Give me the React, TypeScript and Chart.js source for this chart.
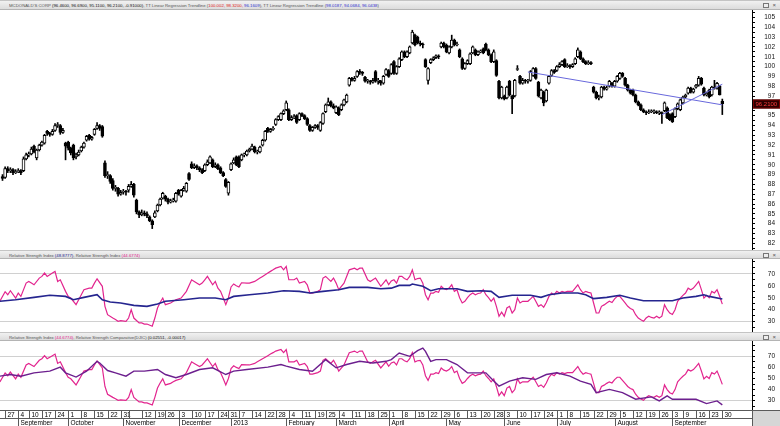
import React, { useEffect, useRef } from 'react';
import { Chart, registerables } from 'chart.js';

Chart.register(...registerables);

const FONT = '"Liberation Sans", Arial, Helvetica, sans-serif';
Chart.defaults.font.family = FONT;

// ---- Daily OHLC (trading day index 0 = 24 Aug 2012 ... 274 = 30 Sep 2013) ----
const OPEN = [
  88.8, 88.7, 89.6, 89.4, 89.5, 89.2, 89.3, 89.4, 89.4, 90.6,
  91.0, 91.1, 91.9, 90.7, 91.5, 92.0, 92.2, 93.4, 93.2, 93.1,
  93.5, 94.0, 94.0, 93.3, 92.2, 92.3, 91.7, 92.0, 90.8, 91.0,
  91.4, 91.8, 92.5, 93.0, 92.6, 93.1, 93.7, 94.0, 93.9, 90.2,
  88.9, 88.9, 88.4, 87.6, 87.6, 87.0, 87.2, 87.3, 87.4, 87.8,
  88.0, 86.4, 85.2, 84.9, 85.1, 85.0, 84.7, 84.3, 84.7, 85.3,
  85.9, 86.6, 86.8, 86.5, 86.2, 86.3, 86.3, 87.4, 86.8, 87.4,
  87.3, 89.1, 90.1, 89.7, 89.9, 89.7, 89.5, 89.4, 90.0, 90.2,
  90.5, 89.8, 90.0, 89.7, 89.2, 88.5, 87.1, 89.5, 90.2, 90.8,
  90.8, 90.5, 91.0, 91.0, 91.4, 91.6, 91.8, 91.3, 91.3, 92.0,
  92.5, 93.7, 93.4, 93.6, 94.1, 94.6, 94.6, 95.2, 95.6, 95.6,
  94.6, 94.8, 95.0, 94.6, 95.2, 95.0, 94.7, 94.0, 93.5, 93.8,
  94.0, 93.5, 94.2, 95.4, 96.1, 96.4, 96.0, 95.3, 95.8, 95.6,
  96.1, 96.4, 98.1, 98.8, 98.6, 99.0, 99.5, 99.4, 98.9, 98.5,
  98.5, 98.4, 99.5, 98.5, 98.5, 98.3, 99.2, 99.6, 99.3, 100.5,
  99.3, 100.0, 100.7, 101.5, 101.0, 101.4, 102.4, 103.2, 103.0, 102.4,
  102.3, 100.7, 98.6, 100.4, 100.7, 100.9, 101.1, 102.0, 102.4, 102.2,
  101.4, 102.0, 102.7, 102.2, 101.7, 100.8, 99.8, 100.3, 100.3, 101.4,
  101.7, 101.2, 101.5, 101.8, 102.3, 101.7, 101.2, 100.5, 100.6, 98.5,
  96.8, 97.0, 96.8, 98.5, 97.0, 97.0, 99.7, 99.0, 98.3, 98.6,
  98.5, 98.6, 99.1, 99.8, 98.4, 96.8, 97.4, 96.5, 98.3, 99.1,
  99.6, 99.6, 100.0, 100.2, 100.7, 100.0, 100.1, 100.0, 100.3, 101.0,
  101.5, 100.8, 100.5, 100.3, 100.4, 97.9, 97.4, 96.8, 96.9, 97.9,
  97.7, 98.0, 98.3, 98.0, 98.5, 98.8, 99.3, 98.8, 98.1, 97.6,
  97.6, 97.1, 96.4, 96.1, 95.6, 95.4, 95.3, 95.4, 95.4, 95.4,
  95.3, 95.3, 95.5, 95.8, 95.1, 95.2, 94.9, 95.7, 95.6, 96.3,
  96.9, 97.3, 97.8, 97.4, 97.9, 98.1, 98.8, 97.8, 97.1, 97.6,
  97.1, 97.9, 97.8, 98.0, 96.46,
];
const HIGH = [
  89.0, 89.8, 89.8, 89.7, 89.6, 89.5, 89.6, 89.5, 90.8, 91.2,
  91.3, 91.8, 92.0, 91.6, 92.1, 92.4, 93.1, 93.5, 93.3, 93.6,
  94.2, 94.3, 94.1, 93.7, 92.3, 92.4, 91.8, 92.1, 91.2, 91.5,
  91.9, 92.3, 93.0, 93.1, 92.9, 93.7, 94.3, 94.1, 94.0, 90.4,
  89.3, 89.0, 88.6, 87.9, 87.7, 87.4, 87.5, 87.4, 88.0, 88.3,
  88.1, 86.5, 85.3, 85.4, 85.3, 85.2, 84.8, 84.4, 85.3, 86.0,
  86.6, 87.2, 86.9, 86.6, 86.5, 86.6, 87.2, 87.5, 87.5, 87.8,
  88.2, 89.2, 90.3, 90.1, 90.0, 89.8, 89.6, 90.1, 90.5, 90.9,
  90.6, 90.2, 90.1, 89.8, 89.3, 88.6, 88.3, 90.2, 90.7, 90.9,
  90.9, 91.1, 91.2, 91.5, 91.7, 92.1, 91.9, 91.5, 91.9, 92.6,
  93.5, 93.8, 93.7, 93.9, 94.7, 95.0, 95.3, 95.6, 96.5, 95.7,
  95.0, 95.1, 95.1, 95.3, 95.3, 95.1, 94.8, 94.1, 93.9, 94.1,
  94.1, 94.4, 95.3, 96.2, 96.8, 96.5, 96.2, 96.0, 95.9, 96.2,
  96.7, 97.2, 98.9, 98.9, 99.0, 99.6, 99.7, 99.5, 99.0, 98.7,
  98.6, 98.8, 99.6, 98.8, 98.6, 99.1, 99.8, 99.7, 100.3, 100.6,
  100.1, 100.9, 101.6, 101.6, 101.6, 102.1, 103.7, 103.3, 103.1, 102.6,
  102.4, 100.8, 99.9, 100.8, 101.0, 101.2, 101.2, 102.5, 102.5, 102.3,
  102.1, 103.2, 102.8, 102.5, 101.8, 100.9, 100.4, 100.7, 101.4, 102.1,
  101.8, 101.6, 101.7, 101.9, 102.4, 101.8, 101.3, 101.7, 100.7, 98.6,
  98.0, 97.1, 98.0, 98.6, 97.1, 98.7, 100.1, 99.1, 98.8, 98.7,
  98.7, 99.6, 99.9, 99.9, 98.5, 97.7, 97.5, 97.7, 99.1, 99.7,
  99.7, 100.1, 100.4, 100.6, 100.8, 100.3, 100.2, 100.3, 100.9, 101.9,
  101.6, 100.9, 100.6, 100.6, 100.5, 98.0, 97.5, 97.1, 98.0, 98.0,
  98.0, 98.6, 98.4, 98.6, 99.1, 99.4, 99.4, 98.9, 98.2, 97.7,
  97.7, 97.2, 96.5, 96.2, 95.7, 95.5, 95.6, 95.6, 95.6, 95.5,
  95.5, 95.4, 96.4, 95.9, 95.2, 95.3, 95.8, 96.3, 96.7, 97.0,
  97.2, 97.9, 97.9, 97.8, 98.2, 99.0, 98.9, 97.9, 97.4, 97.7,
  98.0, 98.6, 98.4, 98.1, 96.69,
];
const LOW = [
  88.4, 88.6, 89.2, 89.2, 89.0, 89.1, 89.2, 89.0, 89.3, 90.5,
  90.8, 91.0, 91.2, 90.5, 91.4, 91.9, 92.1, 93.0, 92.9, 93.0,
  93.4, 93.8, 93.1, 93.2, 90.5, 91.5, 91.0, 90.5, 90.6, 90.9,
  91.3, 91.7, 92.4, 92.5, 92.5, 93.0, 93.6, 93.5, 92.8, 88.7,
  88.6, 88.1, 87.4, 87.3, 86.8, 86.9, 87.0, 86.9, 87.2, 87.7,
  86.7, 85.0, 84.6, 84.8, 84.8, 84.6, 84.2, 83.5, 84.6, 85.2,
  85.8, 86.5, 86.3, 86.0, 86.1, 86.2, 86.2, 86.9, 86.7, 87.3,
  87.2, 88.4, 89.6, 89.6, 89.5, 89.3, 89.1, 89.3, 89.9, 90.1,
  89.7, 89.7, 89.5, 89.1, 88.8, 87.7, 86.9, 89.4, 90.1, 89.9,
  89.7, 90.4, 90.8, 90.9, 91.3, 91.5, 91.2, 91.1, 91.2, 91.9,
  92.4, 93.3, 93.3, 93.5, 94.0, 94.5, 94.5, 95.1, 95.5, 94.5,
  94.5, 94.7, 94.2, 94.5, 94.9, 94.6, 94.0, 93.4, 93.4, 93.7,
  93.6, 93.4, 94.1, 95.3, 96.0, 95.9, 95.7, 95.2, 95.0, 95.5,
  96.0, 96.3, 98.0, 98.5, 98.5, 98.9, 99.2, 99.1, 98.4, 98.3,
  98.2, 98.3, 98.4, 98.2, 98.1, 98.2, 99.1, 98.9, 99.2, 99.2,
  99.2, 99.9, 100.6, 100.9, 100.9, 101.3, 102.3, 102.1, 102.3, 102.1,
  101.9, 99.9, 98.2, 100.3, 100.6, 100.8, 100.8, 101.9, 101.9, 101.4,
  101.3, 101.9, 102.1, 102.1, 100.9, 99.7, 99.7, 100.2, 100.2, 101.3,
  101.1, 101.1, 101.4, 101.3, 101.6, 101.1, 100.4, 100.4, 99.0, 96.7,
  96.7, 96.6, 96.7, 97.0, 95.2, 96.9, 99.6, 98.2, 98.2, 98.3,
  98.3, 98.5, 99.0, 98.7, 96.9, 96.7, 96.0, 96.4, 98.2, 99.0,
  99.3, 99.5, 99.9, 100.1, 99.9, 99.9, 99.8, 99.9, 100.2, 100.9,
  100.7, 100.4, 100.2, 100.2, 100.2, 97.3, 96.7, 96.6, 96.8, 97.6,
  97.6, 97.9, 97.9, 97.9, 98.4, 98.7, 98.9, 98.0, 97.5, 97.2,
  97.0, 96.3, 96.0, 95.5, 95.3, 95.1, 95.2, 95.3, 95.2, 95.2,
  95.1, 94.2, 95.4, 94.7, 94.5, 94.3, 94.8, 95.6, 95.5, 96.2,
  96.8, 97.2, 97.3, 97.3, 97.8, 98.0, 98.1, 97.0, 97.0, 96.8,
  97.0, 97.7, 97.7, 97.1, 95.11,
];
const CLOSE = [
  88.6, 89.6, 89.4, 89.5, 89.2, 89.3, 89.4, 89.2, 90.6, 91.0,
  91.1, 91.6, 91.3, 91.5, 92.0, 92.3, 93.0, 93.2, 93.1, 93.4,
  94.0, 94.1, 93.3, 93.5, 91.9, 91.7, 91.2, 90.7, 91.0, 91.3,
  91.8, 92.2, 92.9, 92.6, 92.8, 93.6, 94.0, 93.7, 92.9, 88.9,
  89.0, 88.3, 87.6, 87.6, 87.0, 87.2, 87.3, 87.2, 87.8, 88.0,
  86.9, 85.2, 84.9, 85.1, 85.0, 84.8, 84.3, 83.9, 85.1, 85.9,
  86.5, 87.1, 86.5, 86.2, 86.3, 86.4, 87.1, 87.0, 87.4, 87.6,
  88.1, 88.5, 89.7, 89.9, 89.7, 89.5, 89.2, 90.0, 90.3, 90.8,
  89.8, 90.0, 89.6, 89.2, 88.9, 87.8, 88.2, 90.1, 90.5, 90.0,
  89.8, 91.0, 91.0, 91.4, 91.6, 91.9, 91.3, 91.3, 91.8, 92.5,
  93.4, 93.4, 93.6, 93.7, 94.6, 94.9, 95.2, 95.5, 96.3, 94.6,
  94.8, 94.9, 94.3, 95.2, 95.0, 94.7, 94.1, 93.5, 93.8, 94.0,
  93.8, 94.3, 95.2, 96.1, 96.4, 96.0, 95.8, 95.9, 95.1, 96.1,
  96.6, 97.1, 98.8, 98.6, 98.8, 99.5, 99.4, 99.3, 98.5, 98.5,
  98.4, 98.6, 98.5, 98.5, 98.3, 99.0, 99.7, 99.0, 100.2, 99.3,
  100.0, 100.8, 101.5, 101.0, 101.5, 102.0, 103.5, 102.2, 102.4, 102.3,
  102.2, 100.0, 99.8, 100.7, 100.9, 101.1, 101.0, 102.4, 102.0, 101.5,
  102.0, 102.7, 102.2, 102.3, 101.0, 99.8, 100.3, 100.6, 101.3, 102.0,
  101.2, 101.5, 101.6, 101.4, 101.7, 101.2, 100.5, 101.5, 99.1, 96.8,
  97.9, 96.7, 97.9, 97.1, 96.7, 98.6, 99.8, 98.3, 98.6, 98.5,
  98.5, 99.5, 99.8, 98.8, 97.0, 97.6, 96.3, 97.6, 99.0, 99.6,
  99.4, 100.0, 100.2, 100.5, 100.0, 100.1, 100.0, 100.2, 100.8, 101.7,
  100.8, 100.5, 100.3, 100.4, 100.3, 97.4, 96.8, 96.9, 97.9, 97.7,
  97.8, 98.5, 98.0, 98.5, 99.0, 99.3, 99.0, 98.1, 97.6, 97.3,
  97.1, 96.4, 96.1, 95.6, 95.4, 95.3, 95.4, 95.4, 95.4, 95.3,
  95.3, 95.2, 96.3, 94.8, 94.6, 94.4, 95.7, 96.2, 96.6, 96.9,
  97.1, 97.8, 97.4, 97.7, 98.1, 98.8, 98.2, 97.1, 97.3, 96.9,
  97.9, 97.8, 98.3, 97.12, 96.21,
];

// ---- Linear regression trendlines: [day index, price] ----
const TREND_A = [[200, 99.45], [274, 96.1]];
const TREND_B = [[251, 95.1], [274, 98.2]];

// ---- RSI(14) in pink: [day index, value] ----
const RSI_FAST = [
  [-1, 47], [1, 55], [2, 52.5], [3, 55.8], [5, 49.7], [6, 53.9], [7, 51.1], [9, 62.2], [10, 63.6], [11, 62.2],
  [12, 60.8], [14, 66.4], [15, 67.8], [16, 70.6], [17, 67.8], [19, 70.6], [20, 72], [21, 63.6], [22, 65], [24, 55.3],
  [25, 51.1], [26, 49.7], [28, 44.2], [29, 48.3], [30, 52.5], [31, 56.7], [33, 58], [34, 58], [35, 62.2], [36, 65.8],
  [38, 59.5], [39, 42.8], [40, 35.8], [42, 33], [43, 31.7], [44, 30.3], [45, 30.8], [47, 30.3], [48, 33], [49, 40],
  [50, 33], [52, 28.9], [53, 28.9], [54, 28], [55, 28], [57, 26.1], [58, 33], [59, 41.4], [60, 46], [61, 49.7],
  [62, 44.2], [64, 45.6], [65, 47], [66, 48.3], [68, 49.7], [70, 55.3], [72, 65], [73, 63.6], [75, 60.8], [76, 62.2],
  [77, 65], [78, 67.8], [80, 60.8], [81, 63.6], [82, 58], [83, 55.3], [84, 50], [85, 44.2], [86, 50], [87, 59],
  [88, 61.5], [89, 60], [90, 59], [91, 62.5], [93, 62.2], [94, 62.2], [96, 63.6], [97, 65], [98, 66.4], [99, 67.8],
  [101, 70.6], [102, 72], [103, 73.3], [104, 74.7], [106, 76.1], [107, 73.3], [108, 76.1], [109, 65], [111, 65], [112, 66.4],
  [113, 62.2], [115, 63.6], [116, 60.8], [117, 53.9], [118, 53.9], [120, 55.3], [121, 56.7], [122, 66.4], [123, 67.8], [125, 63.6],
  [126, 66.4], [127, 62.2], [128, 56.7], [130, 62.2], [131, 67.8], [132, 73.3], [134, 74.7], [135, 73.3], [136, 74.7], [137, 74.7],
  [139, 65], [140, 63.6], [141, 65], [142, 66.4], [144, 59.5], [145, 62.2], [146, 65], [147, 61], [148, 64], [149, 65],
  [150, 62.2], [151, 67.8], [152, 67.8], [153, 66], [154, 65], [155, 67.8], [156, 73.3], [157, 65], [158, 66], [159, 66.4],
  [160, 62.2], [161, 52.5], [162, 48.3], [163, 53.9], [164, 53.9], [165, 55.3], [166, 54.5], [167, 59.5], [168, 57.5], [169, 56.7],
  [170, 58], [171, 60.8], [172, 55.3], [173, 56.7], [174, 50], [175, 45.6], [176, 47], [177, 50], [178, 52.5], [179, 53.9],
  [180, 52.5], [181, 53.5], [182, 53.9], [183, 56.7], [184, 52.5], [185, 50], [186, 47], [187, 49.7], [188, 42.8], [189, 34.5],
  [190, 38], [191, 34.5], [192, 41.4], [193, 42.8], [194, 37.2], [195, 40], [196, 49.7], [197, 45.6], [198, 47], [199, 47],
  [200, 47], [201, 49], [202, 51.1], [203, 47], [204, 42.8], [205, 44.2], [206, 42], [207, 46], [208, 51.1], [209, 53.9],
  [210, 52.5], [211, 55.3], [212, 53.9], [213, 55.3], [214, 54.5], [215, 55.3], [216, 55.3], [217, 55.3], [218, 58], [219, 60.8],
  [220, 56.7], [221, 53.9], [222, 55.3], [223, 54.5], [224, 53.9], [225, 45.6], [226, 37.2], [227, 37.2], [228, 42.8], [229, 44],
  [230, 45.6], [231, 47], [232, 46], [233, 49], [234, 51.1], [235, 51.1], [236, 48.3], [237, 45.6], [238, 42.8], [239, 41],
  [240, 40], [241, 35.8], [242, 33], [243, 31.5], [244, 30.3], [245, 33], [246, 34.5], [247, 33.5], [248, 33], [249, 34.5],
  [250, 33], [251, 34.5], [252, 44.2], [253, 40], [254, 37.2], [255, 36], [256, 40], [257, 47], [258, 49.7], [259, 52],
  [260, 53.9], [261, 58], [262, 56.7], [263, 58], [264, 60.8], [265, 63.6], [266, 57], [267, 49.7], [268, 52], [269, 50],
  [270, 55.3], [271, 54], [272, 56.7], [273, 51], [274, 44.68],
];

// ---- slow RSI in navy: [day index, value] ----
const RSI_SLOW = [
  [-1, 47], [5, 48.3], [12, 50.3], [18, 52], [24, 51.1], [27, 48.3], [31, 50.3], [36, 52.5], [38, 48.3], [41, 46.4],
  [45, 45.6], [50, 43.6], [55, 42.8], [59, 44.7], [62, 47], [69, 48.3], [75, 49.7], [81, 49.7], [85, 48.3], [88, 51.1],
  [94, 52.5], [101, 53.9], [107, 55.8], [113, 55.3], [117, 53.9], [122, 55.3], [128, 56.7], [132, 58.6], [139, 58.6], [144, 57.5],
  [148, 58], [151, 60.3], [155, 60.3], [156, 61.4], [160, 59.5], [163, 55.8], [166, 57.5], [173, 57.5], [177, 55.3], [182, 55.8],
  [186, 55.3], [189, 50.3], [194, 52], [201, 52], [205, 50.3], [208, 52.5], [213, 53.9], [219, 53.9], [222, 52.5], [225, 49.2],
  [230, 50.3], [235, 52], [239, 49.7], [244, 47.5], [249, 47.5], [255, 47.5], [259, 49.7], [264, 51.1], [267, 52.5], [269, 51.1],
  [274, 48.88],
];

// ---- Relative Strength Comparative (DJIC) in purple: [day index, value] ----
const RSC = [
  [-1, 52.1], [3, 53.6], [7, 52.1], [12, 55.1], [18, 56.6], [22, 60.2], [24, 55.1], [28, 51.3], [32, 56.6], [36, 65.5],
  [37, 64], [40, 57.2], [43, 55.1], [47, 52.1], [50, 56.6], [54, 56.6], [59, 58.1], [62, 53.6], [66, 50.7], [70, 53.6],
  [75, 58.1], [80, 59.6], [85, 53.6], [88, 56.6], [93, 58.1], [101, 60.2], [106, 62.6], [108, 61.1], [113, 58.1], [118, 56.6],
  [123, 67], [127, 59.6], [131, 62.6], [136, 65.5], [141, 64], [146, 65.5], [148, 67], [151, 73], [155, 70], [158, 75.1],
  [160, 77.4], [161, 74.5], [163, 65.5], [165, 67], [169, 67], [173, 62.6], [177, 55.1], [182, 55.1], [184, 55.1], [187, 47.7],
  [189, 43.2], [193, 47.7], [198, 50.7], [203, 49.2], [207, 53.6], [211, 55.1], [216, 52.1], [220, 47.7], [224, 44.7], [226, 37.3],
  [231, 40.2], [236, 37.3], [241, 31.3], [247, 33.4], [250, 29.8], [253, 34.3], [255, 31.3], [259, 31.3], [264, 31.3], [268, 27.4],
  [272, 29.8], [274, 26.2],
];

// ---- Date axis ----
const DAY_TICKS = [1, 6, 10, 15, 20, 25, 30, 35, 40, 45, 48, 53, 58, 62, 67, 72, 77, 82, 86, 90, 95, 100, 104, 109, 114, 119, 123, 128, 133, 138, 143, 147, 152, 157, 162, 167, 172, 177, 182, 187, 191, 196, 201, 206, 211, 215, 220, 225, 230, 235, 240, 245, 250, 255, 259, 264, 269, 274];
const DAY_LABELS = ['27', '4', '10', '17', '24', '1', '8', '15', '22', '31', '', '12', '19', '26', '3', '10', '17', '24', '31', '7', '14', '22', '28', '4', '11', '19', '25', '4', '11', '18', '25', '1', '8', '15', '22', '29', '6', '13', '20', '28', '3', '10', '17', '24', '1', '8', '15', '22', '29', '5', '12', '19', '26', '3', '9', '16', '23', '30'];
const MONTH_TICKS = [6, 25, 46, 67, 87, 108, 127, 147, 169, 191, 211, 233, 255];
const MONTH_LABELS = ['September', 'October', 'November', 'December', '2013', 'February', 'March', 'April', 'May', 'June', 'July', 'August', 'September'];

const PRICE_LABELS = [82, 83, 84, 85, 86, 87, 88, 89, 90, 91, 92, 93, 94, 95, 96, 97, 98, 99, 100, 101, 102, 103, 104, 105];
const RSI_LABELS = [30, 40, 50, 60, 70];
const RSI_MINOR = [25, 35, 45, 55, 65, 75, 80];

const X_MIN = -0.95;
const X_MAX = 285.3;

const PINK = '#e2248e';
const NAVY = '#25258f';
const PURPLE = '#6c1f8e';
const TREND = '#6868dc';

const common = (bottomPad: number) => ({
  responsive: false,
  animation: false,
  events: [],
  layout: { padding: { left: 0, top: 0, right: 5, bottom: bottomPad } },
  plugins: { legend: { display: false }, tooltip: { enabled: false } },
});

const xAxis = () => ({ type: 'linear', min: X_MIN, max: X_MAX, display: false, offset: false });

function yAxis(min: number, max: number, tickValues: number[], labels: number[], padding: number, gridColor: any) {
  return {
    type: 'linear',
    position: 'right',
    min,
    max,
    afterFit: (s: any) => {
      s.width = 23;
      s.paddingTop = 0;
      s.paddingBottom = 0;
    },
    afterBuildTicks: (s: any) => {
      s.ticks = tickValues.filter((v) => v >= min && v <= max).map((v) => ({ value: v }));
    },
    ticks: {
      autoSkip: false,
      padding,
      crossAlign: 'far',
      color: '#111',
      font: { size: 6.5, family: FONT },
      callback: (v: number) => (labels.includes(v) ? String(v) : ''),
    },
    grid: {
      drawOnChartArea: !!gridColor,
      color: gridColor || 'rgba(0,0,0,0)',
      tickColor: '#000',
      tickLength: 3,
      lineWidth: 1,
    },
    border: { display: true, color: '#000', width: 1 },
  };
}

const lastPriceTag = {
  id: 'lastPriceTag',
  afterDraw(chart: any) {
    const { ctx, chartArea } = chart;
    const last = CLOSE[CLOSE.length - 1];
    const y = chart.scales.y.getPixelForValue(last);
    const x = chartArea.right + 1;
    ctx.save();
    ctx.fillStyle = '#2b0000';
    ctx.fillRect(x, Math.round(y) - 4.5, 27, 9);
    ctx.strokeStyle = '#7a0000';
    ctx.lineWidth = 1;
    ctx.strokeRect(x + 0.5, Math.round(y) - 4, 26, 8);
    ctx.fillStyle = '#ff3a3a';
    ctx.font = `6px ${FONT}`;
    ctx.textBaseline = 'middle';
    ctx.textAlign = 'left';
    ctx.fillText(last.toFixed(4), x + 2.5, Math.round(y) + 0.5);
    ctx.restore();
  },
};

const dateAxis = {
  id: 'dateAxis',
  afterDraw(chart: any) {
    const { ctx, chartArea, width } = chart;
    const { left, right, bottom } = chartArea;
    const xs = chart.scales.x;
    const rowH = 8;
    const line = (x1: number, y1: number, x2: number, y2: number) => {
      ctx.beginPath();
      ctx.moveTo(x1, y1);
      ctx.lineTo(x2, y2);
      ctx.stroke();
    };
    ctx.save();
    ctx.fillStyle = '#ffffff';
    ctx.fillRect(left, bottom, right - left, rowH * 2);
    ctx.fillStyle = '#d6d6d6';
    ctx.fillRect(right, bottom, width - right, rowH * 2);
    ctx.strokeStyle = '#5a5a5a';
    ctx.lineWidth = 1;
    line(left, bottom + 0.5, width, bottom + 0.5);
    line(left, bottom + rowH + 0.5, right, bottom + rowH + 0.5);
    line(right + 0.5, bottom, right + 0.5, bottom + rowH * 2);
    ctx.font = `6.5px ${FONT}`;
    ctx.fillStyle = '#000';
    ctx.textBaseline = 'middle';
    ctx.textAlign = 'left';
    DAY_TICKS.forEach((d, k) => {
      const px = Math.round(xs.getPixelForValue(d)) + 0.5;
      line(px, bottom, px, bottom + rowH);
      ctx.fillText(DAY_LABELS[k], px + 2, bottom + rowH / 2 + 1);
    });
    MONTH_TICKS.forEach((d, k) => {
      const px = Math.round(xs.getPixelForValue(d)) + 0.5;
      line(px, bottom + rowH, px, bottom + rowH * 2);
      ctx.fillText(MONTH_LABELS[k], px + 2, bottom + rowH * 1.5 + 1);
    });
    ctx.restore();
  },
};

const pairs = (arr: number[][]) => arr.map(([x, y]) => ({ x, y }));

function priceConfig(): any {
  const days = CLOSE.map((_, i) => i);
  const bodyColors = CLOSE.map((c, i) => (c >= OPEN[i] ? '#ffffff' : '#000000'));
  const priceTicks = PRICE_LABELS.flatMap((v) => [v - 0.5, v]).concat([105.5]);
  return {
    type: 'bar',
    data: {
      datasets: [
        { type: 'line', data: pairs(TREND_A), borderColor: TREND, borderWidth: 1, pointRadius: 0, order: -1 },
        { type: 'line', data: pairs(TREND_B), borderColor: TREND, borderWidth: 1, pointRadius: 0, order: -1 },
        {
          type: 'bar',
          data: days.map((i) => ({ x: i, y: [Math.min(OPEN[i], CLOSE[i]), Math.max(OPEN[i], CLOSE[i])] })),
          backgroundColor: bodyColors,
          borderColor: '#000',
          borderWidth: 1,
          borderSkipped: false,
          barThickness: 3,
          minBarLength: 1,
          grouped: false,
          order: 0,
        },
        {
          type: 'bar',
          data: days.map((i) => ({ x: i, y: [LOW[i], HIGH[i]] })),
          backgroundColor: '#000',
          borderWidth: 0,
          barThickness: 1,
          grouped: false,
          order: 1,
        },
      ],
    },
    options: {
      ...common(0),
      scales: { x: xAxis(), y: yAxis(81.32, 105.76, priceTicks, PRICE_LABELS, 9, null) },
    },
    plugins: [lastPriceTag],
  };
}

const rsiGrid = (ctx: any) =>
  ctx.tick && (ctx.tick.value === 70 || ctx.tick.value === 30) ? '#d0d0d0' : 'rgba(0,0,0,0)';

function rsi1Config(): any {
  return {
    type: 'line',
    data: {
      datasets: [
        { data: pairs(RSI_SLOW), borderColor: NAVY, borderWidth: 1.6, pointRadius: 0, order: 0 },
        { data: pairs(RSI_FAST), borderColor: PINK, borderWidth: 1.2, pointRadius: 0, order: 1 },
      ],
    },
    options: {
      ...common(0),
      scales: { x: xAxis(), y: yAxis(21.34, 82.35, [...RSI_LABELS, ...RSI_MINOR], RSI_LABELS, 13, rsiGrid) },
    },
  };
}

function rsi2Config(): any {
  return {
    type: 'line',
    data: {
      datasets: [
        { data: pairs(RSC), borderColor: PURPLE, borderWidth: 1.4, pointRadius: 0, order: 0 },
        { data: pairs(RSI_FAST), borderColor: PINK, borderWidth: 1.2, pointRadius: 0, order: 1 },
      ],
    },
    options: {
      ...common(16),
      scales: { x: xAxis(), y: yAxis(21.6, 83.8, [...RSI_LABELS, ...RSI_MINOR], RSI_LABELS, 13, rsiGrid) },
    },
    plugins: [dateAxis],
  };
}

function ChartCanvas({ top, height, build }: { top: number; height: number; build: () => any }) {
  const ref = useRef<HTMLCanvasElement>(null);
  useEffect(() => {
    const chart = new Chart(ref.current as HTMLCanvasElement, build());
    return () => chart.destroy();
  }, [build]);
  return (
    <canvas
      ref={ref}
      width={780}
      height={height}
      style={{ position: 'absolute', left: 0, top, width: 780, height, display: 'block' }}
    />
  );
}

function Header({ top, height, children }: { top: number; height: number; children: any }) {
  return (
    <div
      style={{
        position: 'absolute',
        left: 0,
        top,
        width: 780,
        height,
        boxSizing: 'border-box',
        background: 'linear-gradient(#f1f1f1, #dcdcdc)',
        borderTop: '1px solid #c4c4c4',
        borderBottom: '1px solid #b4b4b4',
        overflow: 'hidden',
      }}
    >
      <div style={{ position: 'absolute', left: 9, top: 0, height: height - 2, display: 'flex', alignItems: 'center', whiteSpace: 'nowrap' }}>
        <span
          style={{
            display: 'inline-block',
            fontFamily: FONT,
            fontSize: 8.6,
            lineHeight: '10px',
            color: '#555',
            transform: 'scale(0.5)',
            transformOrigin: 'left center',
          }}
        >
          {children}
        </span>
      </div>
      <div style={{ position: 'absolute', right: 11, top: 2, width: 4, height: 3, border: '1px solid #777', background: '#eee' }} />
      <div style={{ position: 'absolute', right: 4, top: 0, height: height - 2, display: 'flex', alignItems: 'center', fontFamily: FONT, fontSize: 6, color: '#555' }}>×</div>
    </div>
  );
}

const dark = { color: '#111' };

export default function App() {
  return (
    <div style={{ position: 'absolute', left: 0, top: 0, width: 780, height: 426, background: '#fff', overflow: 'hidden' }}>
      <Header top={0} height={10}>
        MCDONALD'S CORP <span style={dark}>(96.4600, 96.6900, 95.1100, 96.2100, -0.91000)</span>, TT Linear Regression Trendline (
        <span style={{ color: '#e02020' }}>100.002, 98.3200, </span>
        <span style={{ color: '#3030d0' }}>96.1609</span>), TT Linear Regression Trendline (
        <span style={{ color: '#3030d0' }}>98.0187, 94.0684, 96.0438</span>)
      </Header>
      <ChartCanvas top={10} height={240} build={priceConfig} />
      <Header top={250} height={9}>
        Relative Strength Index <span style={{ color: NAVY }}>(48.8777)</span>, Relative Strength Index{' '}
        <span style={{ color: PINK }}>(44.6774)</span>
      </Header>
      <ChartCanvas top={259} height={73} build={rsi1Config} />
      <Header top={332} height={9}>
        Relative Strength Index <span style={{ color: PINK }}>(44.6774)</span>, Relative Strength Comparative(DJIC){' '}
        <span style={dark}>(0.02551, -0.00017)</span>
      </Header>
      <ChartCanvas top={341} height={85} build={rsi2Config} />
    </div>
  );
}
